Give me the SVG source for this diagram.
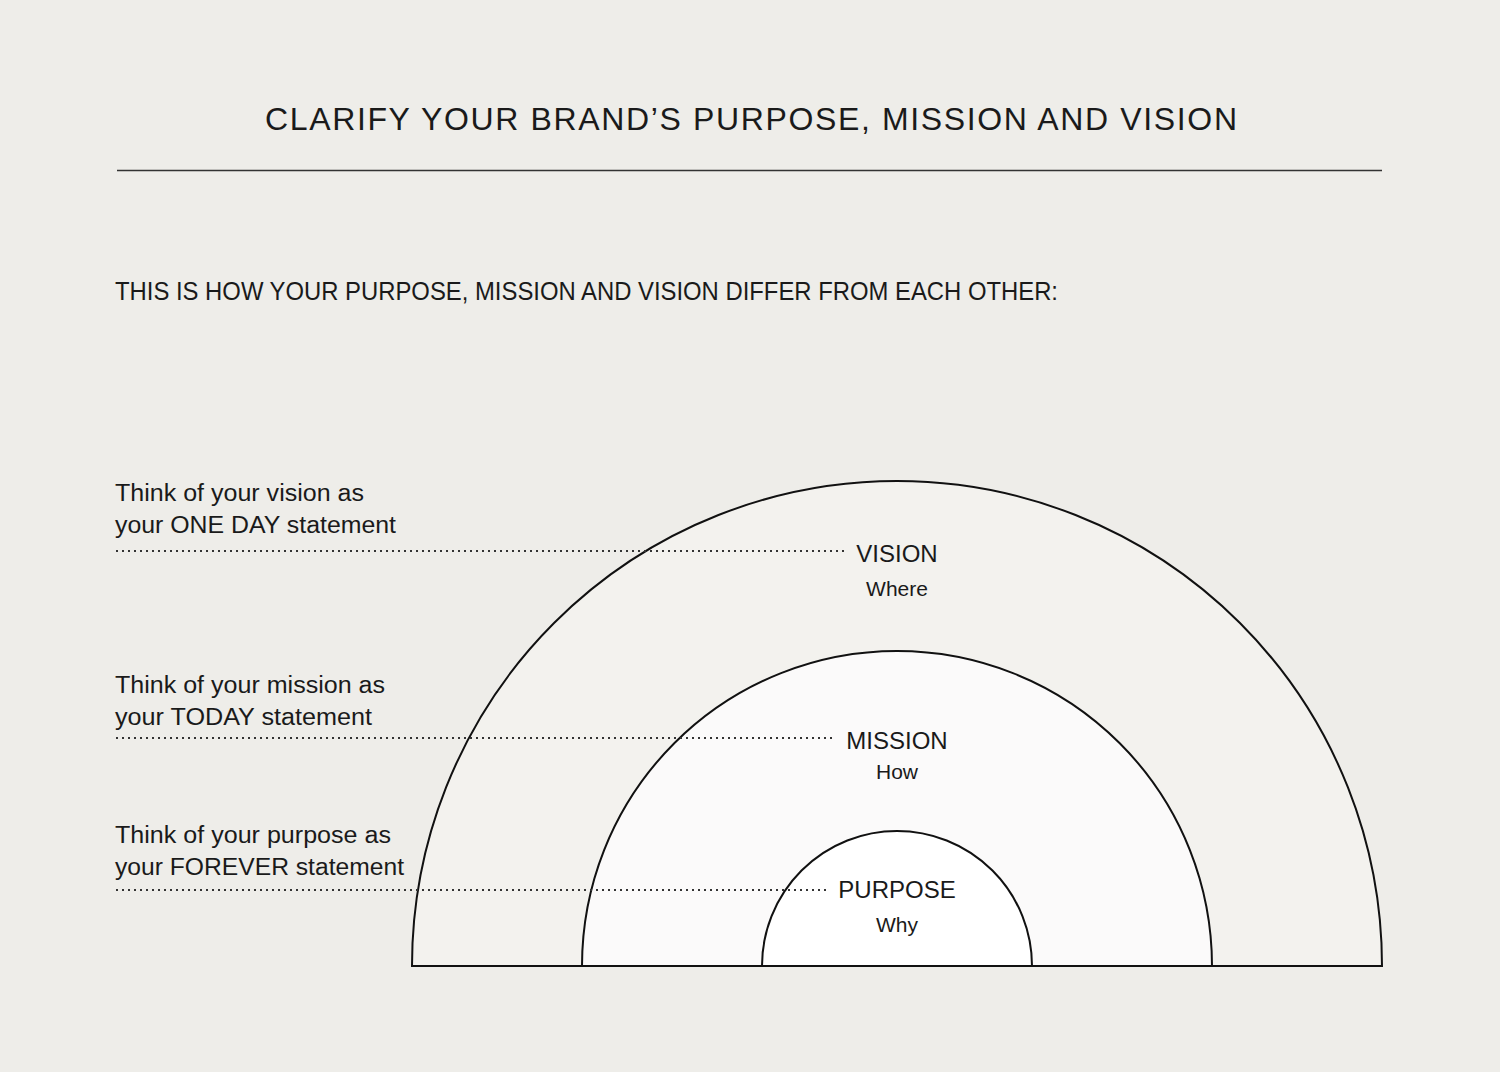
<svg xmlns="http://www.w3.org/2000/svg" width="1500" height="1072" viewBox="0 0 1500 1072">
<style>
.t{font-family:"Liberation Sans",Arial,sans-serif;fill:#1a1a1a}
.title{font-size:32px}
.sub{font-size:25px}
.note{font-size:23px}
.lab{font-size:24px;text-anchor:middle}
.small{font-size:21px;text-anchor:middle}
.ring{stroke:#111;stroke-width:2}
.dot{stroke:#333;stroke-width:2;stroke-dasharray:2 4;fill:none}
</style>
<rect width="1500" height="1072" fill="#eeede9"/>
<g id="header">
<text class="t title" x="265" y="130" textLength="972" lengthAdjust="spacing">CLARIFY YOUR BRAND’S PURPOSE, MISSION AND VISION</text>
<line x1="117" y1="170.5" x2="1382" y2="170.5" stroke="#333" stroke-width="1.5"/>
<text class="t sub" x="115" y="300" textLength="943" lengthAdjust="spacingAndGlyphs">THIS IS HOW YOUR PURPOSE, MISSION AND VISION DIFFER FROM EACH OTHER:</text>
</g>
<g id="vision">
<path class="ring" d="M412 966 A485 485 0 0 1 1382 966 Z" fill="#f3f2ee"/>
</g>
<g id="mission">
<path class="ring" d="M582 966 A315 315 0 0 1 1212 966 Z" fill="#fbfafa"/>
</g>
<g id="purpose">
<path class="ring" d="M762 966 A135 135 0 0 1 1032 966 Z" fill="#ffffff"/>
</g>
<g id="connectors">
<line class="dot" x1="116" y1="551" x2="848" y2="551"/>
<line class="dot" x1="116" y1="738" x2="833" y2="738"/>
<line class="dot" x1="116" y1="890" x2="826" y2="890"/>
</g>
<g id="labels">
<text class="t lab" x="897" y="562">VISION</text>
<text class="t small" x="897" y="596">Where</text>
<text class="t lab" x="897" y="749">MISSION</text>
<text class="t small" x="897" y="779">How</text>
<text class="t lab" x="897" y="898">PURPOSE</text>
<text class="t small" x="897" y="932">Why</text>
</g>
<g id="notes">
<text class="t note" x="115" y="501" textLength="249" lengthAdjust="spacingAndGlyphs">Think of your vision as</text>
<text class="t note" x="115" y="533" textLength="281" lengthAdjust="spacingAndGlyphs">your ONE DAY statement</text>
<text class="t note" x="115" y="693" textLength="270" lengthAdjust="spacingAndGlyphs">Think of your mission as</text>
<text class="t note" x="115" y="725" textLength="257" lengthAdjust="spacingAndGlyphs">your TODAY statement</text>
<text class="t note" x="115" y="843" textLength="276" lengthAdjust="spacingAndGlyphs">Think of your purpose as</text>
<text class="t note" x="115" y="875" textLength="289" lengthAdjust="spacingAndGlyphs">your FOREVER statement</text>
</g>
</svg>
